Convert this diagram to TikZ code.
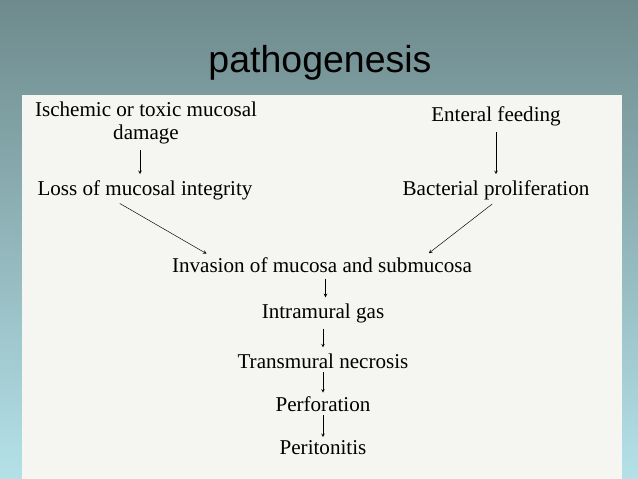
\documentclass[tikz,border=0pt]{standalone}
\usepackage{fontspec}
\setmainfont{Liberation Serif}
\newfontfamily\titlefont{Liberation Sans}
\begin{document}
\begin{tikzpicture}[x=0.03cm,y=-0.03cm,
  lbl/.style={font=\fontsize{18}{19}\selectfont, align=center, inner sep=1pt},
  arr/.style={-stealth, thin, black, shorten <=4pt, shorten >=4pt}]
\useasboundingbox (0,0) rectangle (638,479);
\shade[top color={rgb,255:red,110;green,138;blue,140}, bottom color={rgb,255:red,180;green,225;blue,232}] (0,0) rectangle (638,479);
\fill[color={rgb,255:red,245;green,245;blue,242}] (22,95) rectangle (622,479);
\node[font=\titlefont\fontsize{32}{34}\selectfont] (title) at (320,63) {pathogenesis};
\node[lbl] (isch) at (146,123) {Ischemic or toxic mucosal\\damage};
\node[lbl] (ent) at (496,116) {Enteral feeding};
\node[lbl] (loss) at (145,190) {Loss of mucosal integrity};
\node[lbl] (bac) at (496,190) {Bacterial proliferation};
\node[lbl] (inv) at (322,265) {Invasion of mucosa and submucosa};
\node[lbl] (gas) at (323,313) {Intramural gas};
\node[lbl] (nec) at (323,361) {Transmural necrosis};
\node[lbl] (perf) at (323,404) {Perforation};
\node[lbl] (peri) at (323,448) {Peritonitis};
\draw[arr] (isch.south -| 140,0) coordinate (a1) -- (a1 |- loss.north);
\draw[arr] (ent.south) coordinate (a2) -- (a2 |- bac.north);
\draw[arr] ([xshift=-25]loss.south) -- ([xshift=-95]inv.north);
\draw[arr] (bac.south) -- ([xshift=88]inv.north);
\draw[arr] ([xshift=3]inv.south) coordinate (a3) -- (a3 |- gas.north);
\draw[arr] (gas.south) -- (nec.north);
\draw[arr, shorten <=2pt, shorten >=2pt] (nec.south) -- (perf.north);
\draw[arr, shorten <=2pt, shorten >=2pt] (perf.south) -- (peri.north);
\end{tikzpicture}
\end{document}
